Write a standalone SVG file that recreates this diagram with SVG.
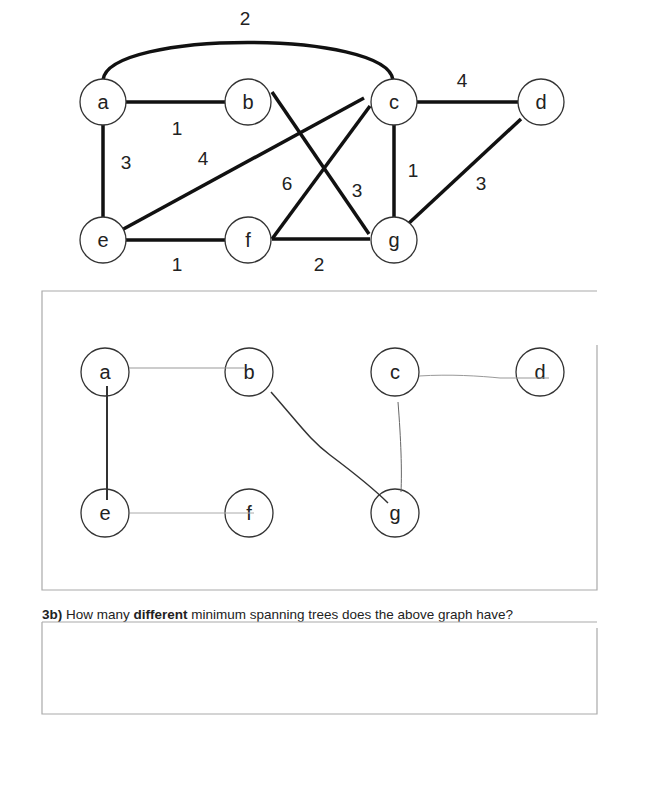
<svg xmlns="http://www.w3.org/2000/svg" width="659" height="797" viewBox="0 0 659 797">
<style>
.n{fill:#fff;stroke:#333;stroke-width:1.3}
.t{font-family:"Liberation Sans",Arial,sans-serif;font-size:20px;fill:#222;text-anchor:middle}
.w{font-family:"Liberation Sans",Arial,sans-serif;font-size:19px;fill:#222;text-anchor:middle}
.e{stroke:#111;stroke-width:3.5;fill:none}
.box{stroke:#aaa;stroke-width:1.2;fill:none}
</style>
<rect width="659" height="797" fill="#fff"/>
<g id="connectors">
<path class="e" d="M103,80 C108,30 387,30 393,80"/>
<line class="e" x1="125" y1="102" x2="226" y2="102"/>
<line class="e" x1="272" y1="92" x2="369" y2="234"/>
<line class="e" x1="364" y1="98" x2="118" y2="232"/>
<line class="e" x1="370" y1="106" x2="272" y2="239"/>
<line class="e" x1="272" y1="239" x2="370" y2="239"/>
<line class="e" x1="417" y1="102" x2="518" y2="102"/>
<line class="e" x1="394" y1="125" x2="394" y2="218"/>
<line class="e" x1="521" y1="119" x2="408" y2="224"/>
<line class="e" x1="103" y1="125" x2="103" y2="218"/>
<line class="e" x1="125" y1="240" x2="226" y2="240"/>
</g>
<g id="weights">
<text class="w" x="245" y="25">2</text>
<text class="w" x="462" y="87">4</text>
<text class="w" x="177" y="135">1</text>
<text class="w" x="126" y="169">3</text>
<text class="w" x="203" y="165">4</text>
<text class="w" x="287" y="190">6</text>
<text class="w" x="357" y="197">3</text>
<text class="w" x="413" y="177">1</text>
<text class="w" x="481" y="190">3</text>
<text class="w" x="177" y="271">1</text>
<text class="w" x="319" y="271">2</text>
</g>
<g id="node-a"><circle class="n" cx="103" cy="102" r="23"/><text class="t" x="103" y="109">a</text></g>
<g id="node-b"><circle class="n" cx="248" cy="102" r="23"/><text class="t" x="248" y="109">b</text></g>
<g id="node-c"><circle class="n" cx="394" cy="102" r="23"/><text class="t" x="394" y="109">c</text></g>
<g id="node-d"><circle class="n" cx="541" cy="102" r="23"/><text class="t" x="541" y="109">d</text></g>
<g id="node-e"><circle class="n" cx="103" cy="240" r="23"/><text class="t" x="103" y="247">e</text></g>
<g id="node-f"><circle class="n" cx="248" cy="240" r="23"/><text class="t" x="248" y="247">f</text></g>
<g id="node-g"><circle class="n" cx="394" cy="240" r="23"/><text class="t" x="394" y="247">g</text></g>
<g id="box1"><path class="box" d="M597,291 H42 V590 H597 V345"/></g>
<g id="node-a2"><circle class="n" cx="105" cy="372" r="24"/><text class="t" x="105" y="379">a</text></g>
<g id="node-b2"><circle class="n" cx="249" cy="372" r="24"/><text class="t" x="249" y="379">b</text></g>
<g id="node-c2"><circle class="n" cx="395" cy="372" r="24"/><text class="t" x="395" y="379">c</text></g>
<g id="node-d2"><circle class="n" cx="540" cy="372" r="24"/><text class="t" x="540" y="379">d</text></g>
<g id="node-e2"><circle class="n" cx="105" cy="513" r="24"/><text class="t" x="105" y="520">e</text></g>
<g id="node-f2"><circle class="n" cx="249" cy="513" r="24"/><text class="t" x="249" y="520">f</text></g>
<g id="node-g2"><circle class="n" cx="395" cy="513" r="24"/><text class="t" x="395" y="520">g</text></g>
<g id="tree-connectors">
<line x1="129" y1="368" x2="245" y2="368" stroke="#999" stroke-width="1"/>
<line x1="107" y1="386" x2="107" y2="500" stroke="#333" stroke-width="2"/>
<line x1="130" y1="513" x2="254" y2="513" stroke="#aaa" stroke-width="1"/>
<path d="M271,392 C300,425 310,440 330,455 C350,470 370,485 388,503" stroke="#333" stroke-width="1.5" fill="none"/>
<path d="M398,402 C401,440 402,470 401,492" stroke="#666" stroke-width="1" fill="none"/>
<path d="M419,376 C450,374 480,376 500,378 L549,378" stroke="#999" stroke-width="1" fill="none"/>
</g>
<text x="42" y="619" font-family="'Liberation Sans',Arial,sans-serif" font-size="13.6" fill="#222" textLength="471" lengthAdjust="spacingAndGlyphs"><tspan font-weight="bold">3b)</tspan> How many <tspan font-weight="bold">different</tspan> minimum spanning trees does the above graph have?</text>
<g id="box2"><path class="box" d="M42,622 H597 M42,622 V714 H597 V628"/></g>
</svg>
